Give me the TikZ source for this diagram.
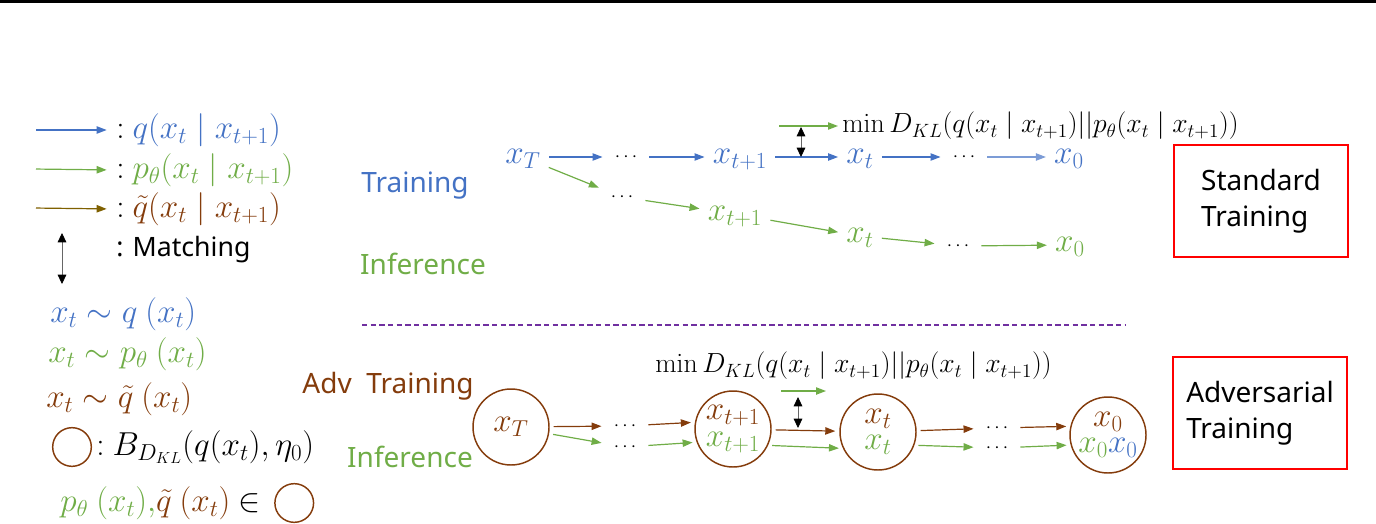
\documentclass[tikz,border=0pt]{standalone}
\usepackage[no-math]{fontspec}
\setmainfont{Noto Sans}
\usepackage{xcolor}
\usetikzlibrary{arrows.meta, positioning}
\definecolor{blu}{HTML}{4472C4}
\definecolor{grn}{HTML}{70AD47}
\definecolor{brn}{HTML}{843C0C}
\definecolor{olv}{HTML}{7F6000}
\definecolor{prp}{HTML}{7030A0}
\tikzset{
    lbl/.style={font=\fontsize{21}{25}\selectfont, inner sep=0pt},
    lgd/.style={font=\fontsize{23}{26}\selectfont, anchor=west, inner sep=0pt},
    var/.style={font=\fontsize{25}{28}\selectfont, text height=17pt, text depth=7pt, inner sep=3pt},
    gap/.style={font=\fontsize{14}{16}\selectfont, inner sep=6pt},
    ball/.style={circle, draw=brn, line width=1.1pt, minimum size=57pt, inner sep=0pt, align=center, font=\fontsize{24}{20}\selectfont},
    orb/.style={circle, draw=brn, line width=1.1pt, minimum size=29pt, inner sep=0pt},
    kltext/.style={font=\fontsize{19.5}{22}\selectfont, anchor=west, inner sep=0pt},
    link/.style={-{Triangle[length=7.5pt,width=5.5pt]}, line width=0.9pt, shorten <=3pt, shorten >=3pt},
    pair/.style={{Triangle[length=7pt,width=6.5pt,color=black]}-{Triangle[length=7pt,width=6.5pt,color=black]}, line width=0.6pt, draw=black!60},
    modebox/.style={draw=red, line width=1.1pt, minimum width=130.5pt, minimum height=84pt, align=left, font=\fontsize{21}{27}\selectfont}
}

\begin{document}
\begin{tikzpicture}[x=0.75pt, y=-0.75pt]
    \useasboundingbox (0,0) rectangle (1376,524);
    \draw[line width=2pt] (0,1.5) -- (1376,1.5);

    % Leyenda
    \coordinate (l1) at (32,130);
    \coordinate (l2) at (32,169);
    \coordinate (l3) at (32,208);
    \node[lgd] (lq) at (116,130) {$:$ \textcolor{blu}{$q(x_t\mid x_{t+1})$}};
    \node[lgd] (lp) at (116,170) {$:$ \textcolor{grn}{$p_\theta(x_t\mid x_{t+1})$}};
    \node[lgd] (lqt) at (116,209) {$:$ \textcolor{brn}{$\tilde{q}(x_t\mid x_{t+1})$}};
    \coordinate (m1) at (62,233);
    \coordinate (m2) at (62,284);
    \node[lbl, anchor=west, font=\fontsize{20}{24}\selectfont] (lm) at (116,250) {: Matching};
    \node[lgd] (s1) at (50,314) {\textcolor{blu}{$x_t\sim q\ (x_t)$}};
    \node[lgd] (s2) at (48,354) {\textcolor{grn}{$x_t\sim p_\theta\ (x_t)$}};
    \node[lgd] (s3) at (46,399) {\textcolor{brn}{$x_t\sim \tilde{q}\ (x_t)$}};
    \node[orb] (lb) at (72,447) {};
    \node[lgd, right=3pt of lb] (lbt) {$:$ $B_{D_{KL}}(q(x_t),\eta_0)$};
    \node[lgd] (lin) at (60,503) {\textcolor{grn}{$p_\theta\ (x_t),$}\textcolor{brn}{$\tilde{q}\ (x_t)$} $\in$};
    \node[orb, right=10pt of lin] (lc) {};

    \path[link, blu] (l1) edge[shorten >=7pt] (lq.west);
    \path[link, grn] (l2) edge[shorten >=7pt] (lp.west);
    \path[link, olv] (l3) edge[shorten >=7pt] (lqt.west);
    \draw[pair] (m1) -- (m2);

    % Entrenamiento estandar
    \node[lbl, text=blu] (tr) at (415,186) {Training};
    \node[lbl, text=grn] (inf) at (423,264) {Inference};
    \node[var, text=blu] (xT) at (523,157) {$x_T$};
    \node[gap] (d1) at (626,157) {$\cdots$};
    \node[var, text=blu] (xa) at (740,157) {$x_{t+1}$};
    \node[var, text=blu] (xb) at (860,157) {$x_t$};
    \node[gap] (d2) at (964,157) {$\cdots$};
    \node[var, text=blu] (x0) at (1069,157) {$x_0$};
    \node[var, text=grn] (ya) at (735,214) {$x_{t+1}$};
    \node[var, text=grn] (yb) at (860,236) {$x_t$};
    \node[gap] (d3) at (622,197) {$\cdots$};
    \node[gap] (d4) at (958,246) {$\cdots$};
    \node[var, text=grn] (y0) at (1070,245) {$x_0$};
    \node[kltext] (kl) at (842,126) {$\min D_{KL}(q(x_t\mid x_{t+1})||p_\theta(x_t\mid x_{t+1}))$};
    \coordinate (g1) at (775,126);
    \coordinate (u1) at (801,127);
    \coordinate (u2) at (801,157);
    \node[modebox] (std) at (1261,201) {Standard\\Training};

    \path[link, blu] (xT) edge (d1);
    \path[link, blu] (d1) edge (xa);
    \path[link, blu] (xa) edge (xb);
    \path[link, blu] (xb) edge (d2);
    \path[link, blu!70] (d2) edge (x0);
    \path[link, grn] (g1) edge (kl.west);
    \path[link, grn] (xT) edge (d3);
    \path[link, grn] (d3) edge (ya);
    \path[link, grn] (ya) edge (yb);
    \path[link, grn] (yb) edge (d4);
    \path[link, grn] (d4) edge (y0);
    \draw[pair] (u1) -- (u2);

    \draw[prp, dash pattern=on 4pt off 2.5pt, line width=0.9pt] (362,325) -- (1125,325);

    % Entrenamiento adversarial
    \node[lbl, text=brn] (atr) at (388,386) {Adv\ \ Training};
    \node[lbl, text=grn] (ainf) at (410,457) {Inference};
    \node[ball] (bT) at (511,427) {\textcolor{brn}{$x_T$}};
    \node[gap] (bd1) at (625,426) {$\cdots$};
    \node[gap] (bd2) at (625,447) {$\cdots$};
    \node[ball] (ba) at (733,429) {\textcolor{brn}{$x_{t+1}$}\\\textcolor{grn}{$x_{t+1}$}};
    \node[ball] (bb) at (878,432) {\textcolor{brn}{$x_t$}\\\textcolor{grn}{$x_t$}};
    \node[gap] (bd3) at (997,428) {$\cdots$};
    \node[gap] (bd4) at (997,448) {$\cdots$};
    \node[ball] (bc) at (1108,435) {\textcolor{brn}{$x_0$}\\\textcolor{grn}{$x_0$}\textcolor{blu}{$x_0$}};
    \node[kltext] (kl2) at (655,366) {$\min D_{KL}(q(x_t\mid x_{t+1})||p_\theta(x_t\mid x_{t+1}))$};
    \coordinate (h1) at (777,391);
    \coordinate (h2) at (830,391);
    \coordinate (v1) at (798,397);
    \coordinate (v2) at (798,428);
    \node[modebox] (adv) at (1260,413) {Adversarial\\Training};

    \path[link, brn] (bT) edge (bd1);
    \path[link, grn] (bT) edge (bd2);
    \path[link, brn] (bd1) edge (ba.170);
    \path[link, grn] (bd2) edge (ba.200);
    \path[link, grn] (h1) edge (h2);
    \path[link, brn] (ba) edge (bb);
    \path[link, grn] (ba.-25) edge (bb.205);
    \path[link, brn] (bb) edge (bd3);
    \path[link, grn] (bb.-20) edge (bd4);
    \path[link, brn] (bd3) edge (bc.167);
    \path[link, grn] (bd4) edge (bc.195);
    \draw[pair] (v1) -- (v2);
\end{tikzpicture}
\end{document}
